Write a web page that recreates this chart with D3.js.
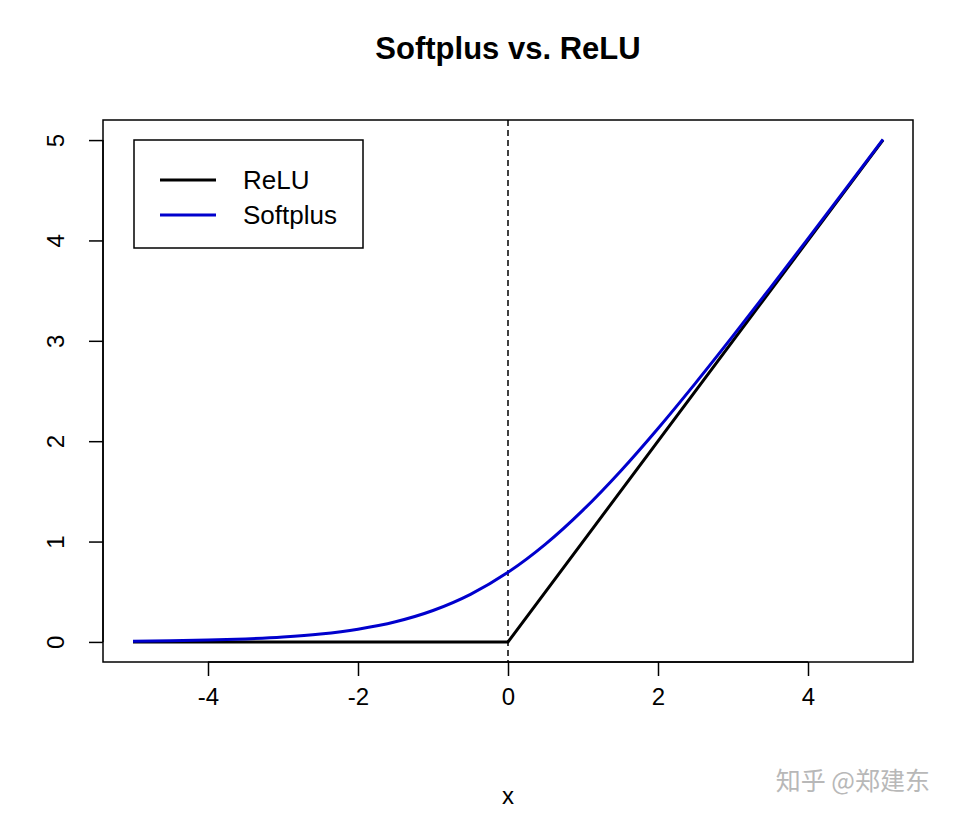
<!DOCTYPE html>
<html><head><meta charset="utf-8">
<script src="https://cdn.jsdelivr.net/npm/d3@7"></script>
<style>body{margin:0;background:#fff}</style>
</head><body>
<div id="chart"></div>
<script>
const xTicks = [-4, -2, 0, 2, 4];
const yTicks = [0, 1, 2, 3, 4, 5];
const reluX = [-5, 0, 5];
const reluY = [0, 0, 5];
const softX = [-5, -4.5, -4, -3.5, -3, -2.5, -2, -1.5, -1, -0.5, 0, 0.5, 1, 1.5, 2, 2.5, 3, 3.5, 4, 4.5, 5];
const softY = [0.007, 0.011, 0.018, 0.03, 0.049, 0.079, 0.127, 0.201, 0.313, 0.474, 0.693, 0.974, 1.313, 1.701, 2.127, 2.579, 3.049, 3.53, 4.018, 4.511, 5.007];
const legendItems = [{ name: "ReLU", color: "#000" }, { name: "Softplus", color: "#0000cd" }];

const W = 954, H = 821;
const box = { left: 103, right: 913, top: 120, bottom: 662 };
const font = "'Liberation Sans', Arial, sans-serif";

const svg = d3.select("#chart").append("svg")
  .attr("width", W).attr("height", H)
  .style("font-family", font);

const x = d3.scaleLinear().domain([-5.4, 5.4]).range([box.left, box.right]);
const y = d3.scaleLinear().domain([-0.2, 5.2]).range([box.bottom, box.top]);

svg.append("text").attr("x", 508).attr("y", 59).attr("text-anchor", "middle")
  .style("font-size", "31px").style("font-weight", "bold").text("Softplus vs. ReLU");

svg.append("rect").attr("x", box.left).attr("y", box.top)
  .attr("width", box.right - box.left).attr("height", box.bottom - box.top)
  .attr("fill", "none").attr("stroke", "#000").attr("stroke-width", 1.5);

const xa = svg.append("g").attr("transform", `translate(0,${box.bottom})`)
  .call(d3.axisBottom(x).tickValues(xTicks).tickSize(14).tickPadding(12).tickFormat(d => String(d)));
xa.select(".domain").attr("d", `M${x(-4)},0H${x(4)}`).attr("stroke-width", 1.5);
xa.selectAll("line").attr("stroke-width", 1.5);
xa.selectAll("text").style("font-size", "24px").style("font-family", font).attr("fill", "#000");

const ya = svg.append("g").attr("transform", `translate(${box.left},0)`)
  .call(d3.axisLeft(y).tickValues(yTicks).tickSize(14));
ya.select(".domain").attr("d", `M0,${y(0)}V${y(5)}`).attr("stroke-width", 1.5);
ya.selectAll("line").attr("stroke-width", 1.5);
ya.selectAll("text").remove();
ya.selectAll(".tick").append("text")
  .attr("transform", "translate(-47,0) rotate(-90)")
  .attr("text-anchor", "middle").attr("dy", "0.35em")
  .style("font-size", "24px").attr("fill", "#000").text(d => d);

svg.append("text").attr("x", 508).attr("y", 804).attr("text-anchor", "middle")
  .style("font-size", "24px").text("x");

svg.append("line").attr("x1", x(0)).attr("x2", x(0)).attr("y1", box.top).attr("y2", box.bottom)
  .attr("stroke", "#000").attr("stroke-width", 1.5).attr("stroke-dasharray", "6,4");

const line = d3.line().x(d => x(d[0])).y(d => y(d[1]));
svg.append("path").datum(reluX.map((v, i) => [v, reluY[i]]))
  .attr("d", line).attr("fill", "none").attr("stroke", "#000").attr("stroke-width", 3);
svg.append("path").datum(softX.map((v, i) => [v, softY[i]]))
  .attr("d", line.curve(d3.curveMonotoneX)).attr("fill", "none").attr("stroke", "#0000cd").attr("stroke-width", 3);

const lg = svg.append("g");
lg.append("rect").attr("x", 134).attr("y", 140).attr("width", 229).attr("height", 108)
  .attr("fill", "#fff").attr("stroke", "#000").attr("stroke-width", 1.5);
legendItems.forEach((d, i) => {
  const yy = 180 + i * 35;
  lg.append("line").attr("x1", 160).attr("x2", 216).attr("y1", yy).attr("y2", yy)
    .attr("stroke", d.color).attr("stroke-width", 3);
  lg.append("text").attr("x", 243).attr("y", yy).attr("dy", "0.35em")
    .style("font-size", "26px").text(d.name);
});

svg.append("text").attr("x", 930).attr("y", 790).attr("text-anchor", "end")
  .style("font-size", "25px").style("font-family", "'Noto Sans CJK SC', sans-serif")
  .attr("fill", "#b8b8b8").text("知乎 @郑建东");
</script>
</body></html>
